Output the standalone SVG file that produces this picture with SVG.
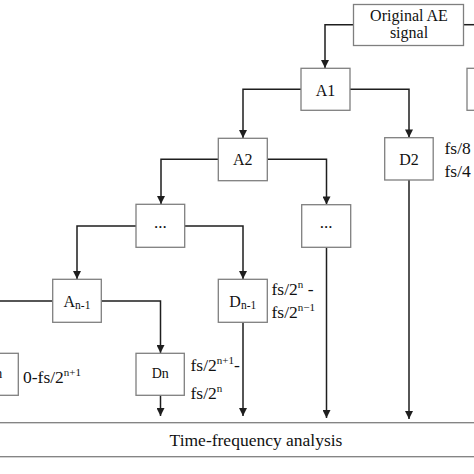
<svg xmlns="http://www.w3.org/2000/svg" width="474" height="474" viewBox="0 0 474 474">
<style>
.box{fill:#fff;stroke:#7f7f7f;stroke-width:1.3}
.c{fill:none;stroke:#1e1e1e;stroke-width:1.5}
.t{font-family:"Liberation Serif","Times New Roman",serif;fill:#111}
.m{text-anchor:middle}
</style>
<defs>
<marker id="ah" viewBox="0 0 10 10" refX="10" refY="5" markerUnits="userSpaceOnUse" markerWidth="9" markerHeight="8" orient="auto">
<path d="M0,0 L10,5 L0,10 z" fill="#1e1e1e"/>
</marker>
</defs>
<rect width="474" height="474" fill="#fff"/>
<g id="connectors">
<path class="c" d="M354,24.7 H325 V68" marker-end="url(#ah)"/>
<path class="c" d="M464,24.7 H480"/>
<path class="c" d="M301,89.3 H243 V138" marker-end="url(#ah)"/>
<path class="c" d="M350,89.3 H409 V137.5" marker-end="url(#ah)"/>
<path class="c" d="M409,180 V419" marker-end="url(#ah)"/>
<path class="c" d="M218.3,159.3 H161 V204" marker-end="url(#ah)"/>
<path class="c" d="M267.3,159.3 H326.5 V204.5" marker-end="url(#ah)"/>
<path class="c" d="M136,226 H77 V279" marker-end="url(#ah)"/>
<path class="c" d="M185,226 H243 V279" marker-end="url(#ah)"/>
<path class="c" d="M326.5,247.3 V418" marker-end="url(#ah)"/>
<path class="c" d="M52.7,301 H-10"/>
<path class="c" d="M101.3,301 H160.5 V353" marker-end="url(#ah)"/>
<path class="c" d="M160.5,395 V416" marker-end="url(#ah)"/>
<path class="c" d="M243,322.3 V416" marker-end="url(#ah)"/>
</g>
<g id="original">
<rect class="box" x="353.5" y="4.5" width="110" height="41"/>
<text class="t m" x="409" y="21" font-size="16">Original AE</text>
<text class="t m" x="409" y="38" font-size="16">signal</text>
</g>
<g id="A1">
<rect class="box" x="301" y="68.3" width="49" height="42"/>
<text class="t m" x="325.5" y="95.5" font-size="16">A1</text>
</g>
<g id="D1">
<rect class="box" x="467" y="68.3" width="49" height="42"/>
</g>
<g id="D2">
<rect class="box" x="384.7" y="137.7" width="48.5" height="42.3"/>
<text class="t m" x="409" y="165" font-size="16">D2</text>
<text class="t" x="444.5" y="154" font-size="17.5">fs/8</text>
<text class="t" x="444.5" y="176.5" font-size="17.5">fs/4</text>
</g>
<g id="A2">
<rect class="box" x="218.3" y="138.3" width="49" height="42.4"/>
<text class="t m" x="242.8" y="165" font-size="16">A2</text>
</g>
<g id="dots1">
<rect class="box" x="136" y="204.3" width="48.7" height="43"/>
<text class="t m" x="160.4" y="228" font-size="17">...</text>
</g>
<g id="dots2">
<rect class="box" x="301.7" y="204.7" width="49" height="42.6"/>
<text class="t m" x="326.2" y="228" font-size="17">...</text>
</g>
<g id="An-1">
<rect class="box" x="52.7" y="279.3" width="48.6" height="43"/>
<text class="t m" x="77" y="307" font-size="16">A<tspan font-size="11.5" dy="2">n-1</tspan></text>
</g>
<g id="Dn-1">
<rect class="box" x="218.3" y="279.3" width="49" height="43"/>
<text class="t m" x="242.8" y="307" font-size="16">D<tspan font-size="11.5" dy="2">n-1</tspan></text>
<text class="t" x="271.5" y="294.5" font-size="17.5">fs/2<tspan font-size="11" dy="-7">n</tspan><tspan dy="7"> -</tspan></text>
<text class="t" x="271.5" y="317.5" font-size="17.5">fs/2<tspan font-size="11" dy="-7">n−1</tspan></text>
</g>
<g id="An">
<rect class="box" x="-30.7" y="353.3" width="49" height="42"/>
<text class="t m" x="-6.2" y="377.5" font-size="14">An</text>
<text class="t" x="23" y="382.5" font-size="17.5">0-fs/2<tspan font-size="11" dy="-7">n+1</tspan></text>
</g>
<g id="Dn">
<rect class="box" x="136" y="353.3" width="48.3" height="42"/>
<text class="t m" x="160.2" y="377.5" font-size="14">Dn</text>
<text class="t" x="190.5" y="371" font-size="17.5">fs/2<tspan font-size="11" dy="-7">n+1</tspan><tspan dy="7">-</tspan></text>
<text class="t" x="190.5" y="398.5" font-size="17.5">fs/2<tspan font-size="11" dy="-7">n</tspan></text>
</g>
<g id="tfa">
<rect class="box" x="-5" y="422.7" width="484" height="34"/>
<text class="t m" x="256" y="446" font-size="17.5">Time-frequency analysis</text>
</g>
</svg>
